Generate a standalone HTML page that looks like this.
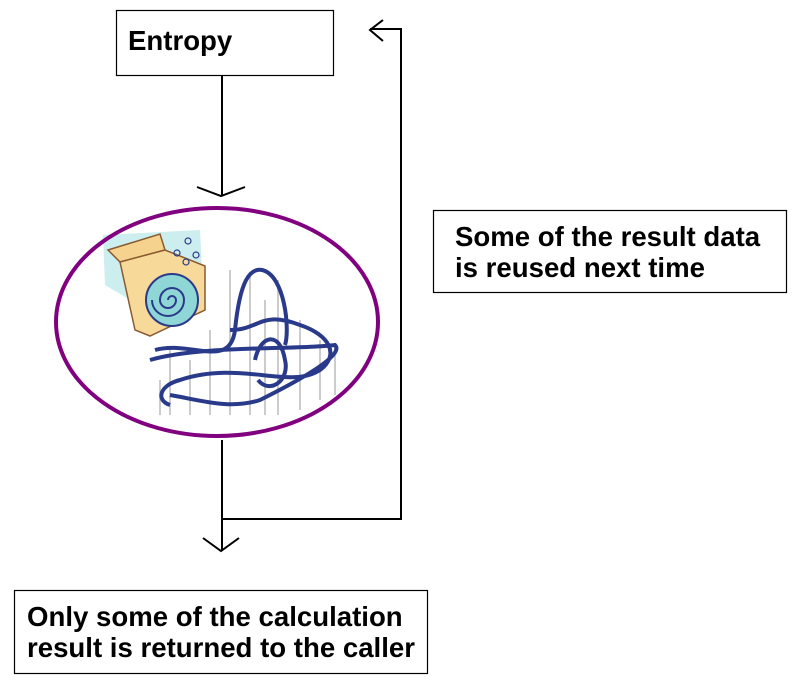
<!DOCTYPE html>
<html><head><meta charset="utf-8"><style>
html,body{margin:0;padding:0;background:#fff;width:795px;height:681px;overflow:hidden}
svg{display:block}
text{font-family:"Liberation Sans",sans-serif;font-weight:bold;font-size:27.6px;fill:#000}
</style></head><body>
<svg width="795" height="681" viewBox="0 0 795 681" xmlns="http://www.w3.org/2000/svg">
<rect x="116.5" y="10.5" width="217" height="65" fill="#fff" stroke="#000" stroke-width="1.2"/>
<text x="128" y="50">Entropy</text>
<g stroke="#000" stroke-width="2" fill="none">
<line x1="222" y1="75" x2="222" y2="196"/>
<polyline points="197,187 221,196 245,187"/>
<line x1="222" y1="440" x2="222" y2="551"/>
<polyline points="203,538 221,551 239,538"/>
<polyline points="222,519 401,519 401,29 370,29"/>
<polyline points="383,20 370,30 383,41"/>
</g>
<rect x="433.5" y="210.5" width="353" height="82" fill="#fff" stroke="#000" stroke-width="1.2"/>
<text x="455" y="246">Some of the result data</text>
<text x="455" y="277">is reused next time</text>
<rect x="14.5" y="590.5" width="413" height="83" fill="#fff" stroke="#000" stroke-width="1.2"/>
<text x="27" y="626">Only some of the calculation</text>
<text x="27" y="657">result is returned to the caller</text>
<polygon points="103,235 200,230 203,290 130,300 105,285" fill="#cdeeee"/>
<polygon points="108,250 160,234 165,250 120,262" fill="#f5d38e" stroke="#8a5a30" stroke-width="1.5"/>
<polygon points="120,262 165,250 205,266 205,310 150,336 135,330" fill="#f7d99a" stroke="#8a5a30" stroke-width="1.5"/>
<circle cx="172" cy="300" r="26" fill="#8fd6d6" stroke="#2a3a8a" stroke-width="2"/>
<path d="M172,300 m-4,0 a4,4 0 1,1 8,0 a8,8 0 1,1 -16,0 a12,12 0 1,1 24,0 a16,16 0 1,1 -32,0" fill="none" stroke="#2a3a8a" stroke-width="2"/>
<g fill="none" stroke="#2a3a8a" stroke-width="1.2">
<circle cx="188" cy="241" r="3"/><circle cx="177" cy="253" r="3"/><circle cx="196" cy="255" r="3"/><circle cx="186" cy="262" r="3"/>
</g>
<g stroke="#bbb" stroke-width="1.5">
<line x1="230" y1="270" x2="230" y2="415"/><line x1="250" y1="272" x2="250" y2="415"/><line x1="278" y1="280" x2="278" y2="415"/>
<line x1="300" y1="320" x2="300" y2="410"/><line x1="320" y1="340" x2="320" y2="400"/><line x1="170" y1="350" x2="170" y2="415"/>
<line x1="190" y1="360" x2="190" y2="415"/><line x1="210" y1="330" x2="210" y2="415"/><line x1="160" y1="380" x2="160" y2="415"/>
<line x1="265" y1="300" x2="265" y2="415"/><line x1="335" y1="350" x2="335" y2="395"/>
</g>
<g fill="none" stroke="#2a3a8a" stroke-width="4">
<path d="M155,350 C190,340 230,370 235,330 C240,280 250,268 262,270 C285,275 290,330 285,345"/>
<path d="M230,330 C260,330 260,310 300,325 C330,335 340,355 320,370 C290,390 240,360 180,380 C160,385 155,400 170,405"/>
<path d="M150,360 C200,345 300,350 335,345 C345,355 300,380 260,400 C230,410 200,400 170,395"/>
<path d="M255,360 C260,335 280,330 285,360 C290,380 270,395 258,380"/>
</g>
<ellipse cx="217" cy="322" rx="161" ry="114" fill="none" stroke="#800080" stroke-width="4"/>
</svg>
</body></html>
